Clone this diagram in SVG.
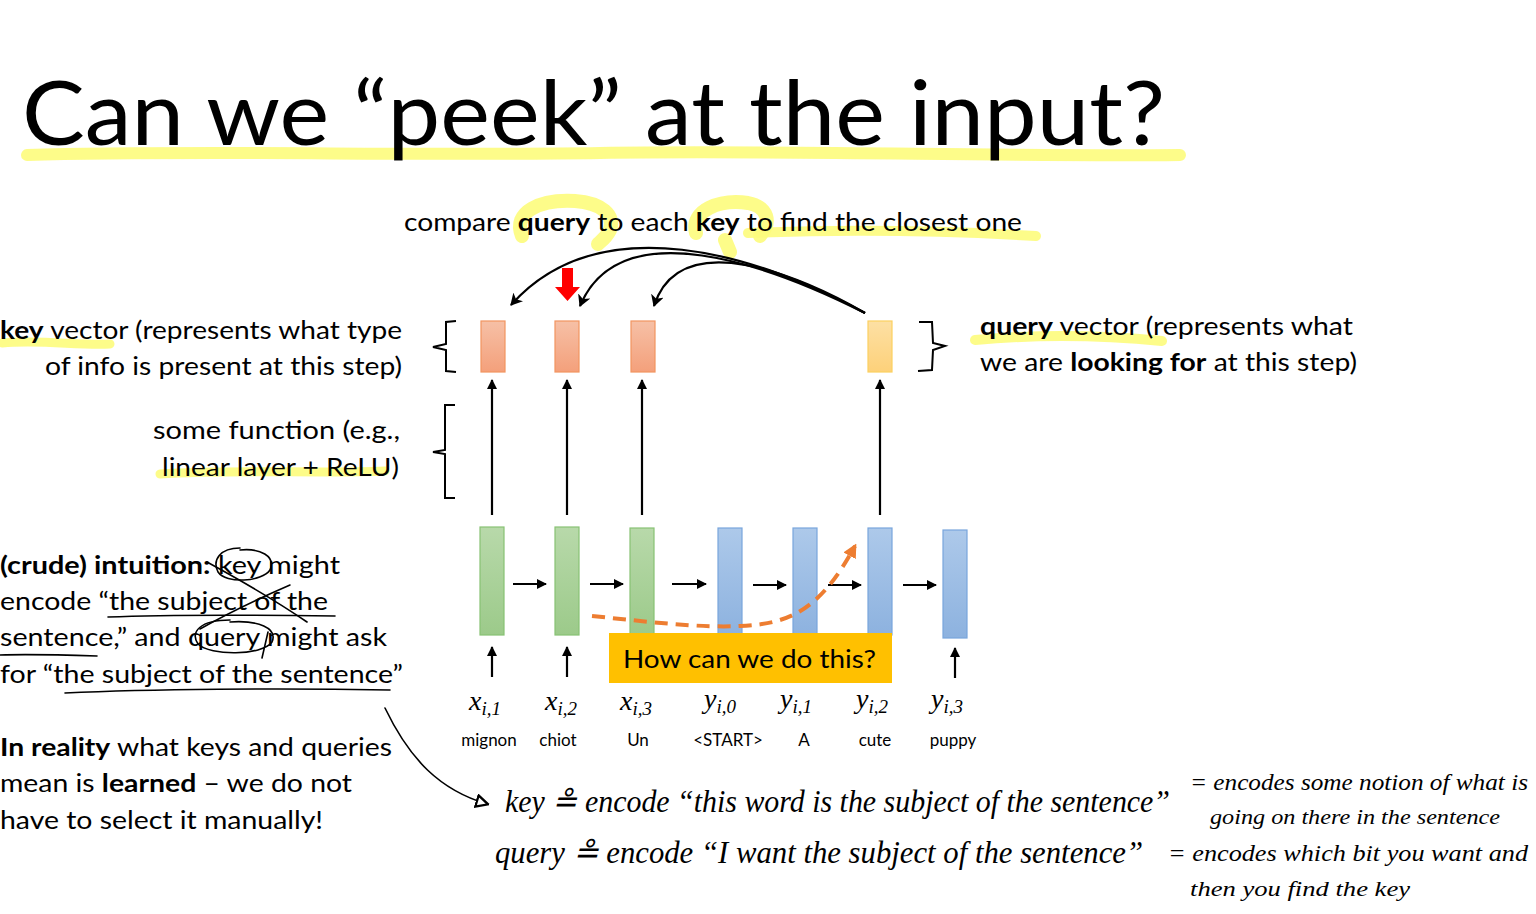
<svg xmlns="http://www.w3.org/2000/svg" width="1536" height="914" viewBox="0 0 1536 914">
<style>
.t{font-family:Lato,"Open Sans","Liberation Sans",sans-serif;fill:#000}
.b{font-weight:bold}
.m{font-family:"Liberation Serif","DejaVu Serif",serif;font-style:italic;font-size:28px}
.ms{font-size:19px}
.w{font-family:Lato,"Liberation Sans",sans-serif;font-size:17px}
.hw{font-family:"Liberation Serif","DejaVu Serif",serif;font-style:italic;fill:#000}
.hl{fill:none;stroke:#fdfc7c;stroke-linecap:round;stroke-linejoin:round;opacity:0.9}
.ink{fill:none;stroke:#000;stroke-width:1.6;stroke-linecap:round}
.arr{stroke:#000;stroke-width:2.2;fill:none}
.br{fill:none;stroke:#000;stroke-width:2}
</style>
<defs>
<linearGradient id="gO" x1="0" y1="0" x2="0" y2="1"><stop offset="0" stop-color="#f6c0a6"/><stop offset="1" stop-color="#f4a07b"/></linearGradient>
<linearGradient id="gY" x1="0" y1="0" x2="0" y2="1"><stop offset="0" stop-color="#fde0a4"/><stop offset="1" stop-color="#fdd17a"/></linearGradient>
<linearGradient id="gG" x1="0" y1="0" x2="0" y2="1"><stop offset="0" stop-color="#b8d9aa"/><stop offset="1" stop-color="#9cca8a"/></linearGradient>
<linearGradient id="gB" x1="0" y1="0" x2="0" y2="1"><stop offset="0" stop-color="#adc9ea"/><stop offset="1" stop-color="#8db2df"/></linearGradient>
<marker id="ah" viewBox="0 0 10 10" refX="9" refY="5" markerWidth="10" markerHeight="10" markerUnits="userSpaceOnUse" orient="auto"><path d="M0,0 L10,5 L0,10 z" fill="#000"/></marker>
<marker id="ahc" viewBox="0 0 12 12" refX="10" refY="6" markerWidth="13" markerHeight="13" markerUnits="userSpaceOnUse" orient="auto"><path d="M0,0 L11,6 L0,12 L3,6 z" fill="#000"/></marker>
<marker id="aho" viewBox="0 0 10 10" refX="8" refY="5" markerWidth="14" markerHeight="14" markerUnits="userSpaceOnUse" orient="auto"><path d="M0,0 L10,5 L0,10 z" fill="#ed7d31"/></marker>
<marker id="aht" viewBox="0 0 12 12" refX="10" refY="6" markerWidth="14" markerHeight="14" markerUnits="userSpaceOnUse" orient="auto"><path d="M1,1 L11,6 L1,11 z" fill="#fff" stroke="#000" stroke-width="2"/></marker>
</defs>
<rect width="1536" height="914" fill="#fff"/>

<g id="highlights">
<path class="hl" stroke-width="12" d="M27,155 C200,150 400,156 600,153 C800,150 1000,157 1180,155"/>
<path class="hl" stroke-width="14" d="M522,236 C512,212 540,199 575,201 C602,203 615,215 610,230 C606,238 600,242 598,244"/>
<path class="hl" stroke-width="14" d="M696,233 C690,210 720,199 748,203 C768,207 772,222 760,236 M725,240 L730,252"/>
<path class="hl" stroke-width="10" d="M748,233 C850,229 950,231 1036,236"/>
<path class="hl" stroke-width="9" d="M2,343 C40,339 80,346 110,344"/>
<path class="hl" stroke-width="9" d="M160,474 C230,469 320,474 385,471"/>
<path class="hl" stroke-width="10" d="M975,340 C1040,334 1110,336 1162,341"/>
</g>

<g id="title"><text class="t" x="22" y="145" font-size="90" textLength="1143" lengthAdjust="spacingAndGlyphs">Can we “peek” at the input?</text></g>

<g id="subtitle"><text class="t" x="404" y="231" font-size="25" textLength="618" lengthAdjust="spacingAndGlyphs">compare <tspan class="b">query</tspan> to each <tspan class="b">key</tspan> to find the closest one</text></g>

<g id="key-label">
<text class="t" x="0" y="339" font-size="25" textLength="402" lengthAdjust="spacingAndGlyphs"><tspan class="b">key</tspan> vector (represents what type</text>
<text class="t" x="45" y="375" font-size="25" textLength="357" lengthAdjust="spacingAndGlyphs">of info is present at this step)</text>
</g>
<g id="func-label">
<text class="t" x="153" y="439" font-size="25" textLength="247" lengthAdjust="spacingAndGlyphs">some function (e.g.,</text>
<text class="t" x="162" y="476" font-size="25" textLength="237" lengthAdjust="spacingAndGlyphs">linear layer + ReLU)</text>
</g>
<g id="query-label">
<text class="t" x="980" y="335" font-size="25" textLength="373" lengthAdjust="spacingAndGlyphs"><tspan class="b">query</tspan> vector (represents what</text>
<text class="t" x="980" y="371" font-size="25" textLength="377" lengthAdjust="spacingAndGlyphs">we are <tspan class="b">looking for</tspan> at this step)</text>
</g>
<g id="intuition">
<text class="t" x="0" y="574" font-size="25" textLength="340" lengthAdjust="spacingAndGlyphs"><tspan class="b">(crude) intuition:</tspan> key might</text>
<text class="t" x="0" y="610" font-size="25" textLength="328" lengthAdjust="spacingAndGlyphs">encode “the subject of the</text>
<text class="t" x="0" y="646" font-size="25" textLength="387" lengthAdjust="spacingAndGlyphs">sentence,” and query might ask</text>
<text class="t" x="0" y="683" font-size="25" textLength="403" lengthAdjust="spacingAndGlyphs">for “the subject of the sentence”</text>
<path class="ink" d="M240,548 C220,548 212,560 218,572 C226,584 262,582 270,570 C276,556 260,548 240,550"/>
<path class="ink" d="M230,620 C200,620 190,632 198,644 C210,656 262,656 272,642 C278,628 258,620 230,622 M268,632 L262,658"/>
<path class="ink" d="M207,562 C240,580 275,600 307,622"/>
<path class="ink" d="M200,629 C230,612 260,598 290,585"/>
<path class="ink" d="M108,617 C180,614 260,615 335,616"/>
<path class="ink" d="M0,655 C30,654 65,655 97,656"/>
<path class="ink" d="M65,693 C150,689 280,688 390,690"/>
</g>
<g id="reality">
<text class="t" x="0" y="756" font-size="25" textLength="392" lengthAdjust="spacingAndGlyphs"><tspan class="b">In reality</tspan> what keys and queries</text>
<text class="t" x="0" y="792" font-size="25" textLength="352" lengthAdjust="spacingAndGlyphs">mean is <tspan class="b">learned</tspan> – we do not</text>
<text class="t" x="0" y="829" font-size="25" textLength="323" lengthAdjust="spacingAndGlyphs">have to select it manually!</text>
</g>

<g id="braces">
<path class="br" d="M456,321 L446,322 L446,344 L433,347 L446,350 L446,371 L456,372"/>
<path class="br" d="M455,405 L445,405 L445,450 L433,452 L445,454 L445,498 L455,498"/>
<path class="br" d="M919,322 L932,322 L933,343 L945,346 L933,350 L932,370 L918,371"/>
</g>

<g id="key-bars">
<rect id="k1" x="481" y="321" width="24" height="51" fill="url(#gO)" stroke="#f29460" stroke-width="1.2"/>
<rect id="k2" x="555" y="321" width="24" height="51" fill="url(#gO)" stroke="#f29460" stroke-width="1.2"/>
<rect id="k3" x="631" y="321" width="24" height="51" fill="url(#gO)" stroke="#f29460" stroke-width="1.2"/>
<rect id="q" x="868" y="321" width="24" height="51" fill="url(#gY)" stroke="#fcd060" stroke-width="1.2"/>
</g>

<g id="rnn-bars">
<rect x="480" y="527" width="24" height="108" fill="url(#gG)" stroke="#88c274" stroke-width="1.2"/>
<rect x="555" y="527" width="24" height="108" fill="url(#gG)" stroke="#88c274" stroke-width="1.2"/>
<rect x="630" y="528" width="24" height="107" fill="url(#gG)" stroke="#88c274" stroke-width="1.2"/>
<rect x="718" y="528" width="24" height="107" fill="url(#gB)" stroke="#79a6dc" stroke-width="1.2"/>
<rect x="793" y="528" width="24" height="107" fill="url(#gB)" stroke="#79a6dc" stroke-width="1.2"/>
<rect x="868" y="528" width="24" height="107" fill="url(#gB)" stroke="#79a6dc" stroke-width="1.2"/>
<rect x="943" y="530" width="24" height="108" fill="url(#gB)" stroke="#79a6dc" stroke-width="1.2"/>
</g>

<g id="connectors">
<line class="arr" x1="492" y1="515" x2="492" y2="380" marker-end="url(#ah)"/>
<line class="arr" x1="567" y1="515" x2="567" y2="380" marker-end="url(#ah)"/>
<line class="arr" x1="642" y1="515" x2="642" y2="380" marker-end="url(#ah)"/>
<line class="arr" x1="880" y1="515" x2="880" y2="380" marker-end="url(#ah)"/>
<line class="arr" x1="513" y1="584" x2="546" y2="584" marker-end="url(#ah)"/>
<line class="arr" x1="590" y1="584" x2="623" y2="584" marker-end="url(#ah)"/>
<line class="arr" x1="672" y1="584" x2="706" y2="584" marker-end="url(#ah)"/>
<line class="arr" x1="753" y1="585" x2="786" y2="585" marker-end="url(#ah)"/>
<line class="arr" x1="828" y1="585" x2="861" y2="585" marker-end="url(#ah)"/>
<line class="arr" x1="903" y1="585" x2="936" y2="585" marker-end="url(#ah)"/>
<line class="arr" x1="492" y1="677" x2="492" y2="647" marker-end="url(#ah)"/>
<line class="arr" x1="567" y1="677" x2="567" y2="647" marker-end="url(#ah)"/>
<line class="arr" x1="955" y1="678" x2="955" y2="648" marker-end="url(#ah)"/>
<path class="arr" d="M865,313 C760,255 600,205 511,305" marker-end="url(#ahc)"/>
<path class="arr" d="M865,313 C770,265 620,210 580,306" marker-end="url(#ahc)"/>
<path class="arr" d="M865,313 C800,275 680,225 654,306" marker-end="url(#ahc)"/>
<path d="M592,616 C650,622 700,628 740,626 C790,624 820,610 855,546" fill="none" stroke="#ed7d31" stroke-width="4" stroke-dasharray="13,8" marker-end="url(#aho)"/>
<path d="M562,268 L573,268 L573,287 L580,287 L567.5,301 L555,287 L562,287 z" fill="#ff0000"/>
<path class="ink" d="M385,708 C410,760 440,790 487,804" marker-end="url(#aht)"/>
</g>

<g id="how-box">
<rect x="609" y="633" width="283" height="50" fill="#ffc000"/>
<text class="t" x="623" y="668" font-size="25" textLength="253" lengthAdjust="spacingAndGlyphs">How can we do this?</text>
</g>

<g id="math-labels">
<text class="m" x="469" y="710">x<tspan class="ms" dy="5">i,1</tspan></text>
<text class="m" x="545" y="710">x<tspan class="ms" dy="5">i,2</tspan></text>
<text class="m" x="620" y="710">x<tspan class="ms" dy="5">i,3</tspan></text>
<text class="m" x="704" y="708">y<tspan class="ms" dy="5">i,0</tspan></text>
<text class="m" x="780" y="708">y<tspan class="ms" dy="5">i,1</tspan></text>
<text class="m" x="856" y="708">y<tspan class="ms" dy="5">i,2</tspan></text>
<text class="m" x="931" y="708">y<tspan class="ms" dy="5">i,3</tspan></text>
</g>
<g id="word-labels">
<text class="w" x="489" y="746" text-anchor="middle">mignon</text>
<text class="w" x="558" y="746" text-anchor="middle">chiot</text>
<text class="w" x="638" y="746" text-anchor="middle">Un</text>
<text class="w" x="728" y="746" text-anchor="middle">&lt;START&gt;</text>
<text class="w" x="804" y="746" text-anchor="middle">A</text>
<text class="w" x="875" y="746" text-anchor="middle">cute</text>
<text class="w" x="953" y="746" text-anchor="middle">puppy</text>
</g>

<g id="handwriting">
<text class="hw" x="505" y="812" font-size="32" textLength="665" lengthAdjust="spacingAndGlyphs">key ≗ encode “this word is the subject of the sentence”</text>
<text class="hw" x="1190" y="790" font-size="24" textLength="338" lengthAdjust="spacingAndGlyphs">= encodes some notion of what is</text>
<text class="hw" x="1210" y="824" font-size="21" textLength="290" lengthAdjust="spacingAndGlyphs">going on there in the sentence</text>
<text class="hw" x="495" y="863" font-size="32" textLength="648" lengthAdjust="spacingAndGlyphs">query ≗ encode “I want the subject of the sentence”</text>
<text class="hw" x="1168" y="861" font-size="24" textLength="360" lengthAdjust="spacingAndGlyphs">= encodes which bit you want and</text>
<text class="hw" x="1190" y="896" font-size="22" textLength="220" lengthAdjust="spacingAndGlyphs">then you find the key</text>
</g>
</svg>
